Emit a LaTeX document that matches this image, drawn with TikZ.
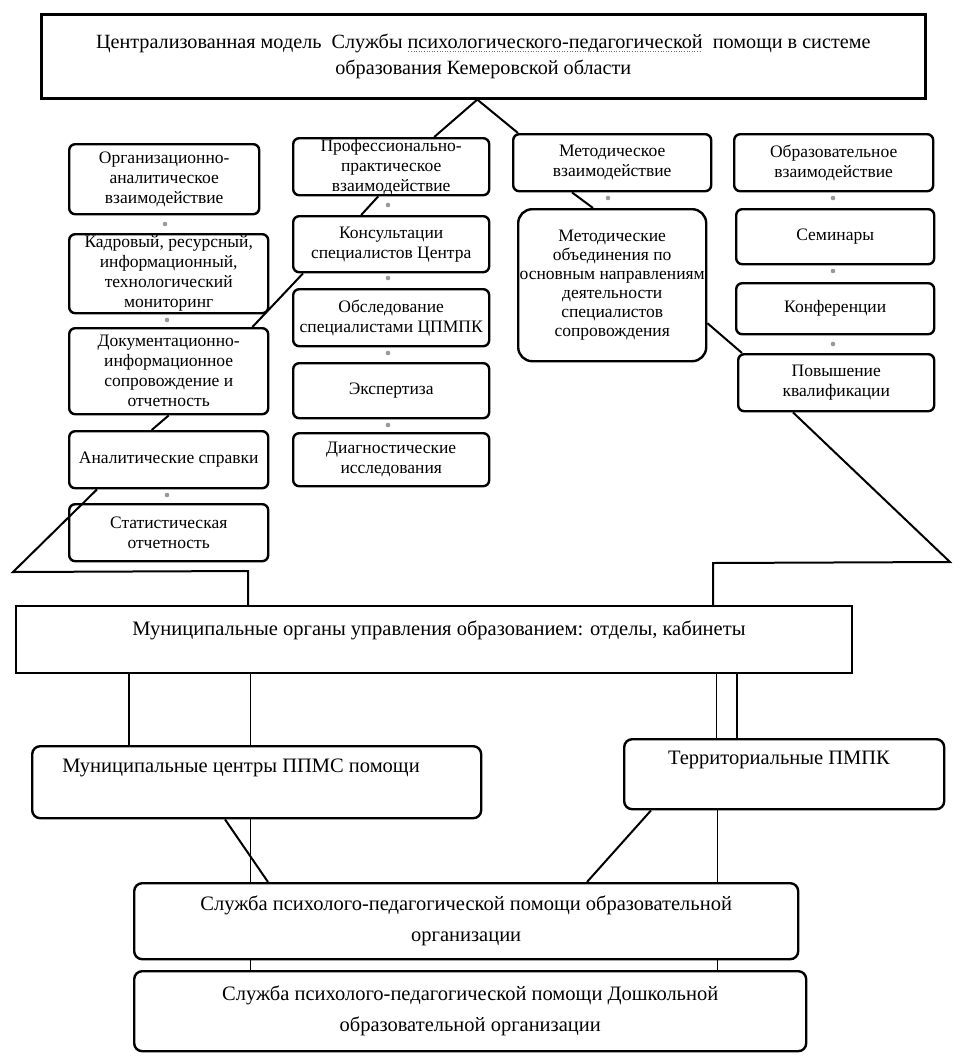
\documentclass[tikz,border=0pt]{standalone}
\usepackage{fontspec}
\setmainfont{Liberation Serif}
\newcommand{\myfsmall}{\fontsize{17.5}{20}\selectfont}
\newcommand{\myftitle}{\fontsize{20.2}{26}\selectfont}
\newcommand{\myfbig}{\fontsize{20.5}{31}\selectfont}
\newcommand{\mydotul}[1]{\setbox0=\hbox{#1}\rlap{\copy0}\raisebox{-3.5pt}{\hbox to \wd0{\color{black!55}\leaders\hbox to 2.6pt{\hss\rule{1.1pt}{0.9pt}\hss}\hfill}}}
\begin{document}
\begin{tikzpicture}[x=1pt,y=-1pt,
  box/.style={draw=black, line width=2.4pt, rounded corners=6pt, align=center,
    inner sep=0pt, anchor=north west, font=\myfsmall},
  sqbox/.style={box, rounded corners=0pt},
  bigbox/.style={box, font=\myfbig, rounded corners=8pt},
  txt/.style={inner sep=0pt, align=center, font=\myfbig},
  con/.style={draw=black, line width=2pt},
  thin/.style={draw=black, line width=1pt},
  dotc/.style={fill=black!40}
]
\useasboundingbox (0,0) rectangle (963,1061);

% title
\node[sqbox, font=\myftitle, minimum width=884pt, minimum height=84pt, line width=2.6pt] (title) at (40,13)
  {Централизованная модель\ \ Службы \mydotul{психологического-педагогической}\ \ помощи в системе\\ образования Кемеровской области};

% left column
\node[box, minimum width=190pt, minimum height=70pt] (org) at (68,143) {Организационно-\\аналитическое\\взаимодействие};
\node[box, minimum width=199pt, minimum height=79pt] (kadr) at (68,233) {Кадровый, ресурсный,\\информационный,\\технологический\\мониторинг};
\node[box, minimum width=199pt, minimum height=86pt] (doc) at (68,327) {Документационно-\\информационное\\сопровождение и\\отчетность};
\node[box, minimum width=199pt, minimum height=57pt] (anal) at (68,430) {Аналитические справки};
\node[box, minimum width=199pt, minimum height=57pt] (stat) at (68,503) {Статистическая\\отчетность};

% second column
\node[box, minimum width=196pt, minimum height=57pt] (prof) at (292,137) {Профессионально-\\практическое\\взаимодействие};
\node[box, minimum width=196pt, minimum height=56pt] (kons) at (292,215) {Консультации\\специалистов Центра};
\node[box, minimum width=196pt, minimum height=57pt] (obs) at (292,288) {Обследование\\специалистами ЦПМПК};
\node[box, minimum width=196pt, minimum height=55pt] (eksp) at (292,362) {Экспертиза};
\node[box, minimum width=196pt, minimum height=53pt] (diag) at (292,432) {Диагностические\\исследования};

% third column
\node[box, minimum width=198pt, minimum height=57pt] (metod) at (512,133) {Методическое\\взаимодействие};
\node[box, rounded corners=14pt, minimum width=188pt, minimum height=152pt, font=\fontsize{17.5}{19}\selectfont] (metobj) at (517,208)
  {Методические\\объединения по\\основным направлениям\\деятельности\\специалистов\\сопровождения};

% fourth column
\node[box, minimum width=199pt, minimum height=57pt] (obr) at (733,133) {Образовательное\\взаимодействие};
\node[box, minimum width=198pt, minimum height=55pt] (sem) at (735,208) {Семинары};
\node[box, minimum width=198pt, minimum height=51pt] (konf) at (735,282) {Конференции};
\node[box, minimum width=196pt, minimum height=57pt] (pov) at (737,353) {Повышение\\квалификации};

% lower part
\node[sqbox, minimum width=836pt, minimum height=67pt] (mun) at (15,605) {};
\node[txt] (muntxt) at (439,630) {Муниципальные органы управления образованием: отделы, кабинеты};
\node[bigbox, minimum width=449pt, minimum height=72pt] (munc) at (31,745) {};
\node[txt] (munctxt) at (241,768) {Муниципальные центры ППМС помощи};
\node[bigbox, minimum width=320pt, minimum height=70pt] (terr) at (623,738) {};
\node[txt] (terrtxt) at (779,760) {Территориальные ПМПК};
\node[bigbox, minimum width=664pt, minimum height=76pt] (sluj) at (133,882)
  {Служба психолого-педагогической помощи образовательной\\организации};
\node[bigbox, minimum width=672pt, minimum height=80pt] (doo) at (133,970)
  {Служба психолого-педагогической помощи Дошкольной\\образовательной организации};

% connectors top
\draw[con] ([xshift=-6pt]title.south) -- ([xshift=43pt]prof.north);
\draw[con] ([xshift=-6pt]title.south) -- ([xshift=6pt]metod.north west);
\draw[con] ([xshift=-13pt]prof.south) -- ([xshift=-30pt]kons.north);
\draw[con] ([xshift=11pt]kons.south west) -- ([xshift=-17pt]doc.north east);
\draw[con] (doc.south) -- ([xshift=-17pt]anal.north);
\draw[con] ([xshift=60pt]metod.south west) -- ([xshift=76pt]metobj.north west);
\draw[con] ([yshift=-38pt]metobj.east) -- ([xshift=5pt]pov.north west);

% polylines to municipal box
\coordinate (l1) at (13,572);
\coordinate (l2) at (248,571);
\draw[con] ([xshift=29pt]anal.south west) -- (l1) -- (l2) -- (l2 |- mun.north);
\coordinate (r1) at (950,562);
\coordinate (r2) at (713,563);
\draw[con] ([xshift=56pt]pov.south west) -- (r1) -- (r2) -- (r2 |- mun.north);

% municipal to centres
\coordinate (va) at (129,0);
\coordinate (vb) at (250,0);
\coordinate (vc) at (716,0);
\coordinate (vd) at (737,0);
\draw[con] (va |- mun.south) -- (va |- munc.north);
\draw[thin] (vb |- mun.south) -- (vb |- munc.north);
\draw[thin] (vc |- mun.south) -- (vc |- terr.north);
\draw[con] (vd |- mun.south) -- (vd |- terr.north);

% centres to school service
\draw[con] ([xshift=194pt]munc.south west) -- ([xshift=135pt]sluj.north west);
\draw[thin] (vb |- munc.south) -- (vb |- sluj.north);
\draw[con] ([xshift=28pt]terr.south west) -- ([xshift=454pt]sluj.north west);
\coordinate (ve) at (717,0);
\draw[thin] (ve |- terr.south) -- (ve |- sluj.north);
\draw[thin] (vb |- sluj.south) -- (vb |- doo.north);
\draw[thin] (ve |- sluj.south) -- (ve |- doo.north);

% small dots between boxes
\foreach \p in {(165,224),(167,320),(167,495),(388,205),(388,278),(388,353),(388,425),(608,198),(833,198),(833,271),(833,344)}
  \fill[dotc] \p circle (2.3pt);
\end{tikzpicture}
\end{document}
